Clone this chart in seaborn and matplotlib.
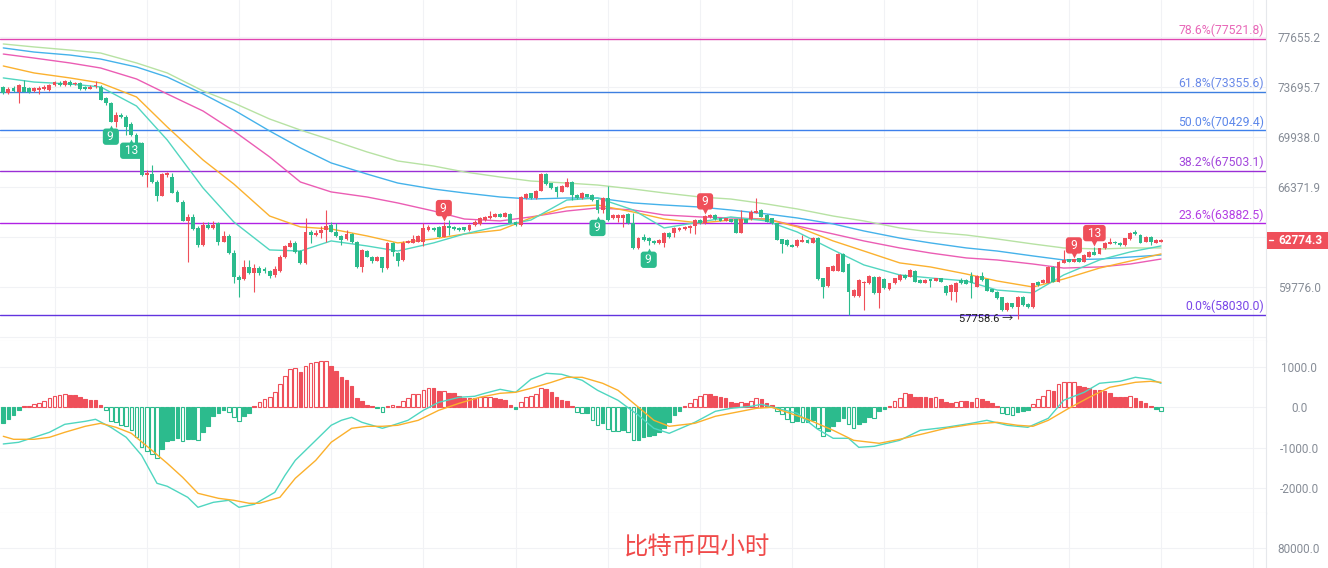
import numpy as np
import pandas as pd
import matplotlib
matplotlib.use("Agg")
import matplotlib.pyplot as plt
import matplotlib.transforms as mtrans
from matplotlib.patches import Rectangle
from matplotlib.lines import Line2D
from matplotlib.ticker import FixedLocator, FixedFormatter, NullLocator
import seaborn as sns

sns.set_theme(style="white")
plt.rcParams["font.family"] = ["Roboto", "Noto Sans CJK SC", "DejaVu Sans"]
plt.rcParams["axes.unicode_minus"] = False

# ---------------- data (4h candles) ----------------
OPEN = [
    73690, 73230, 73620, 73350, 73690, 73620, 73410, 73480, 73540, 73480,
    73870, 74050, 73870, 74130, 73930, 74000, 73690, 73580, 73790, 73740,
    72850, 72510, 71080, 71580, 71450, 70910, 70100, 69490, 67210, 67280,
    66740, 65770, 67210, 67090, 66000, 65360, 64070, 64340, 63560, 62450,
    63780, 63560, 63890, 62670, 63050, 61910, 60410, 60250, 61050, 60630,
    60950, 60880, 60790, 60520, 60790, 61650, 62340, 62570, 62080, 61270,
    63330, 63110, 63230, 63440, 63780, 63330, 63050, 62830, 63180, 62670,
    61050, 62080, 61690, 61430, 61650, 60950, 62570, 61910, 61480, 62610,
    62610, 62670, 62670, 63440, 63560, 63670, 63000, 63710, 63670, 63600,
    63620, 63440, 63780, 63850, 64110, 64230, 64340, 64520, 64340, 64520,
    64000, 63780, 65590, 65930, 65590, 66110, 67280, 66630, 66350, 66050,
    66390, 66740, 65820, 65590, 65870, 65820, 65470, 64790, 65590, 64230,
    64230, 64230, 64520, 63890, 62240, 62960, 62900, 62740, 62570, 62570,
    63230, 63270, 63440, 63490, 63560, 63710, 64110, 63890, 64300, 64450,
    64230, 64070, 64160, 64160, 63270, 64160, 64160, 64610, 64790, 64450,
    64230, 63890, 62830, 62780, 62450, 62390, 62670, 62780, 62600, 62900,
    60310, 59820, 60790, 60790, 61870, 61220, 59200, 59200, 59990, 59990,
    60410, 59370, 60250, 59620, 59990, 60200, 60520, 60410, 60790, 60200,
    60030, 60250, 60160, 60310, 59820, 59470, 59470, 60200, 60180, 60460,
    59780, 60460, 60250, 59620, 59470, 59120, 58340, 58750, 58500, 59160,
    58700, 58500, 60090, 60030, 60030, 61050, 60090, 61310, 61520, 61370,
    61590, 61370, 61690, 62020, 61870, 62240, 62520, 62670, 62610, 62450,
    62830, 63330, 63110, 62670, 63000, 62610, 62670,
]
HIGH = [
    73790, 73720, 73790, 73950, 74260, 73720, 73720, 73790, 73870, 73950,
    74180, 74180, 74260, 74260, 74100, 74100, 73790, 73870, 74180, 73870,
    72950, 72560, 71830, 71730, 71580, 71060, 70240, 69580, 67570, 67920,
    66860, 67360, 67430, 67360, 66160, 65470, 64520, 64520, 63710, 63980,
    63980, 64050, 63980, 63380, 63180, 62130, 60520, 61480, 61480, 61220,
    61090, 61010, 60840, 61090, 61800, 62450, 62780, 62720, 62130, 64230,
    63440, 63440, 63710, 64790, 64000, 63890, 63110, 63440, 63250, 62720,
    62190, 62130, 61740, 61740, 61670, 62650, 62650, 62000, 62720, 62780,
    63110, 63110, 63890, 63780, 63650, 63710, 64000, 64110, 63710, 63650,
    63650, 63850, 64110, 64320, 64380, 64720, 64590, 64590, 64650, 64590,
    64050, 65750, 65960, 65960, 66160, 67360, 67360, 66650, 66440, 66510,
    66980, 66790, 65890, 66050, 65890, 65890, 65540, 65680, 66440, 64520,
    64520, 64520, 64590, 64570, 62980, 63180, 62980, 62780, 62850, 63310,
    63280, 63670, 63650, 63710, 63780, 64180, 64180, 64450, 64520, 64520,
    64250, 64250, 64180, 64180, 64790, 64180, 64790, 65590, 64860, 64520,
    64250, 63910, 62850, 62850, 62520, 62850, 63110, 62850, 62980, 62980,
    60330, 61030, 61160, 61930, 61930, 61290, 59630, 60260, 60140, 60520,
    60460, 60460, 60330, 60010, 60330, 60580, 60580, 60900, 60840, 60260,
    60260, 60260, 60330, 60330, 59890, 59950, 60070, 60310, 60260, 60710,
    60520, 60730, 60260, 59640, 59510, 59140, 58830, 58770, 59200, 59200,
    58770, 60010, 60140, 60260, 61090, 61090, 61410, 62130, 61540, 61540,
    61610, 61870, 62060, 62340, 62260, 62650, 62900, 62720, 62650, 62910,
    63310, 63440, 63180, 63050, 63050, 62820, 62850,
]
LOW = [
    73180, 73180, 73330, 72470, 73330, 73250, 73330, 73180, 73480, 73410,
    73790, 73790, 73790, 73790, 73870, 73480, 73480, 73560, 73640, 72680,
    72340, 71060, 70710, 71360, 70100, 70020, 69290, 67140, 66390, 66650,
    65420, 65750, 67070, 65960, 65330, 64050, 61370, 63440, 62320, 62390,
    63510, 63510, 62450, 62650, 61870, 59990, 59160, 60200, 60580, 59470,
    60520, 60650, 60330, 60390, 60710, 61610, 62320, 61950, 61220, 61220,
    62570, 63050, 62910, 62670, 63310, 62980, 62450, 62780, 62590, 60980,
    60730, 61650, 61270, 61410, 60730, 60920, 61740, 61090, 61410, 62590,
    62590, 62650, 62390, 63380, 63380, 62980, 62980, 63110, 63440, 63380,
    63380, 63380, 63710, 63780, 64050, 64180, 64320, 64320, 64320, 63890,
    63710, 63710, 65540, 65540, 65540, 66090, 66510, 66230, 65660, 66030,
    66370, 65470, 65540, 65540, 65680, 65400, 64570, 64570, 64050, 64180,
    64000, 63670, 63850, 62190, 62190, 62720, 62450, 62520, 62520, 62340,
    62910, 62960, 63380, 63440, 63230, 63180, 63850, 63850, 64250, 64110,
    64050, 64050, 63980, 63250, 63250, 63910, 64110, 64590, 64320, 63980,
    63850, 62750, 61910, 62390, 62320, 62320, 62650, 62590, 62590, 60200,
    59060, 59760, 60770, 60770, 60710, 58030, 59140, 59140, 58340, 59950,
    59320, 58440, 59630, 59570, 59950, 60140, 60260, 60390, 60070, 60010,
    60010, 59740, 60140, 60070, 59260, 58950, 58850, 59950, 59950, 59070,
    59740, 60140, 59510, 59420, 59010, 58270, 58270, 58460, 57758.6, 58580,
    58460, 58460, 59820, 60010, 60010, 60070, 60070, 61290, 61350, 61350,
    61350, 61350, 61670, 61770, 61840, 62190, 62490, 62520, 62420, 62420,
    62780, 63110, 62590, 62650, 62450, 62590, 62650,
]
CLOSE = [
    73230, 73540, 73430, 73870, 73350, 73350, 73620, 73620, 73690, 73870,
    74080, 73870, 74180, 73870, 74000, 73540, 73540, 73740, 73830, 72720,
    72470, 71080, 71580, 71410, 70710, 70100, 69360, 67210, 67380, 66700,
    65770, 67280, 67330, 65980, 65360, 64070, 64300, 63490, 62450, 63780,
    63560, 63780, 62670, 63050, 61910, 60410, 60200, 61050, 60630, 60950,
    60670, 60790, 60460, 60880, 61690, 62390, 62570, 62020, 61270, 63330,
    63110, 63260, 63440, 63710, 63330, 63050, 62780, 63180, 62670, 61050,
    62130, 61690, 61430, 61690, 60950, 62570, 62020, 61430, 62610, 62720,
    62830, 63050, 63560, 63670, 63440, 63000, 63710, 63560, 63490, 63440,
    63420, 63780, 64000, 64230, 64300, 64380, 64520, 64340, 64570, 63930,
    63780, 65700, 65890, 65590, 66110, 67280, 66580, 66280, 66050, 66440,
    66740, 65820, 65590, 65930, 65700, 65470, 64790, 65590, 64110, 64450,
    64480, 64420, 63890, 62240, 62900, 62780, 62720, 62570, 62780, 63270,
    62960, 63560, 63560, 63670, 63710, 64110, 63890, 64380, 64450, 64160,
    64070, 64230, 64000, 63270, 64160, 63930, 64670, 64740, 64340, 64000,
    63890, 62780, 62520, 62450, 62340, 62780, 62780, 62600, 62900, 60250,
    59780, 61010, 61090, 61870, 60730, 59470, 59570, 60200, 60090, 60460,
    59370, 60410, 59680, 59990, 60310, 60520, 60310, 60840, 60090, 60030,
    60200, 60160, 60310, 60090, 59400, 59890, 60030, 59990, 59970, 60010,
    60460, 60200, 59530, 59470, 59060, 58340, 58780, 58500, 59160, 58640,
    58500, 59990, 59890, 60200, 61050, 60090, 61370, 61480, 61370, 61520,
    61370, 61800, 62020, 61800, 62240, 62610, 62670, 62570, 62450, 62900,
    63270, 63160, 62610, 63000, 62670, 62780, 62774.3,
]

# moving averages, read at sample candles
MA_IDX = [0, 6, 13, 19, 26, 32, 39, 45, 52, 58, 64, 71, 77, 84, 90, 97, 103, 110,
          116, 123, 129, 136, 142, 149, 155, 162, 168, 175, 181, 188, 194, 201,
          207, 214, 220, 226]
MA_FAST = [74420, 74100, 73950, 73720, 72260, 69730, 66300, 63980, 62130, 62060,
           62720, 62390, 62060, 62590, 63180, 63710, 64110, 65470, 65610, 64790,
           63580, 63980, 64320, 64050, 63310, 62130, 61160, 60520, 60330, 60140,
           59570, 59390, 60520, 61480, 62000, 62390]
MA_MID = [75360, 74810, 74420, 74030, 72950, 70690, 68280, 66580, 64380, 63650,
          63510, 63050, 62590, 62850, 63180, 63440, 64250, 64990, 65130, 64650,
          64180, 63910, 64110, 64180, 63650, 62720, 62060, 61290, 61030, 60580,
          60140, 59760, 60260, 60960, 61410, 61870]
MA_SLOW = [76310, 75990, 75600, 75200, 74340, 73180, 71880, 70390, 68500, 66720,
           66030, 65680, 65270, 64720, 64180, 64050, 64320, 64720, 64930, 64790,
           64450, 64320, 64250, 64180, 63710, 63180, 62720, 62260, 61930, 61610,
           61480, 61220, 60960, 61030, 61220, 61540]
MA_LONG = [76800, 76470, 76230, 75910, 75280, 74490, 73180, 71960, 70390, 69150,
           68070, 67280, 66650, 66230, 65960, 65680, 65540, 65610, 65610, 65270,
           65130, 64990, 64790, 64520, 64250, 63850, 63380, 62910, 62590, 62260,
           62060, 61740, 61480, 61540, 61670, 61800]
MA_XLONG = [77120, 76880, 76630, 76390, 75600, 74810, 73410, 72490, 71280, 70460,
            69730, 68860, 68210, 67850, 67430, 67070, 66790, 66650, 66510, 66230,
            65960, 65680, 65540, 65200, 64860, 64380, 64050, 63580, 63310, 63110,
            62850, 62520, 62260, 62190, 62260, 62260]

FIB_LEVELS = ["0.0%", "23.6%", "38.2%", "50.0%", "61.8%", "78.6%"]
FIB_PRICES = [58030.0, 63882.5, 67503.1, 70429.4, 73355.6, 77521.8]

TD_IDX = [21, 25, 86, 116, 126, 137, 209, 213]
TD_COUNT = ["9", "13", "9", "9", "9", "9", "9", "13"]
TD_SIDE = ["buy", "buy", "sell", "buy", "buy", "sell", "sell", "sell"]

MACD_HIST = [
    -395, -288, -181, -66, 25, 41, 82, 107, 148, 230,
    288, 313, 329, 313, 313, 263, 206, 189, 181, 66,
    -70, -329, -370, -428, -453, -560, -741, -971, -1070, -1152,
    -1251, -1029, -840, -807, -757, -823, -782, -775, -807, -617,
    -453, -206, -148, -66, -107, -247, -329, -206, -148, 41,
    123, 206, 247, 370, 576, 782, 946, 971, 864, 1029,
    1095, 1130, 1135, 1140, 1029, 905, 757, 675, 535, 230,
    165, 66, 25, -25, -107, 33, 66, 41, 148, 230,
    329, 335, 428, 477, 470, 395, 411, 354, 346, 288,
    230, 228, 226, 247, 255, 263, 230, 206, 181, 66,
    -41, 140, 263, 288, 329, 477, 453, 370, 247, 181,
    148, 25, -123, -148, -140, -305, -428, -395, -535, -576,
    -593, -560, -600, -807, -800, -741, -700, -675, -617, -510,
    -370, -181, -82, 41, 99, 206, 288, 335, 329, 288,
    263, 230, 123, 99, 123, 115, 165, 230, 206, 99,
    66, -99, -165, -288, -370, -329, -370, -354, -313, -510,
    -700, -576, -453, -329, -263, -411, -510, -411, -370, -240,
    -262, -99, -41, 41, 165, 230, 350, 340, 263, 260,
    247, 230, 263, 206, 123, 99, 123, 148, 145, 123,
    230, 206, 148, 99, 41, -148, -165, -181, -123, -100,
    -70, 82, 206, 288, 428, 411, 576, 617, 620, 625,
    535, 510, 469, 428, 425, 395, 346, 263, 260, 258,
    288, 230, 148, 99, 33, -30, -99,
]
DIF_IDX = [0, 3, 6, 9, 12, 16, 18, 21, 24, 27, 30, 32, 36, 38, 41, 44, 46, 49, 53, 55,
           57, 61, 64, 66, 68, 70, 72, 74, 76, 79, 82, 85, 89, 92, 94, 97, 100, 103, 106, 109,
           113, 116, 120, 124, 127, 130, 135, 139, 142, 146, 148, 151, 155, 159, 162, 165,
           167, 170, 175, 179, 184, 189, 192, 196, 200, 204, 207, 211, 214, 218, 221, 224, 226]
DIF = [-905, -864, -741, -617, -420, -346, -296, -494, -741, -1185,
       -1876, -1950, -2222, -2469, -2346, -2296, -2469, -2395, -2099, -1679,
       -1309, -815, -444, -321, -247, -370, -444, -518, -444, -321,
       -74, 123, 247, 272, 346, 444, 370, 691, 840, 815,
       667, 420, 173, -198, -519, -642, -370, -99, -25, 25,
       74, -25, -148, -543, -765, -765, -988, -963, -815, -568,
       -494, -395, -321, -444, -494, -272, 173, 370, 593, 642,
       741, 691, 593]
DEA_IDX = [0, 2, 6, 9, 12, 16, 19, 22, 25, 29, 32, 35, 38, 42, 45, 48, 50, 54, 57, 61,
           64, 68, 71, 74, 77, 81, 85, 89, 93, 97, 100, 103, 107, 110, 113, 117, 120, 124,
           127, 130, 135, 139, 144, 147, 150, 153, 157, 162, 166, 171, 175, 180, 184, 189,
           194, 198, 201, 204, 208, 212, 216, 221, 224, 226]
DEA = [-716, -790, -790, -741, -617, -469, -395, -494, -642, -1062,
       -1383, -1728, -2123, -2247, -2296, -2370, -2370, -2222, -1753, -1309,
       -864, -519, -469, -469, -444, -321, -74, 99, 247, 346,
       370, 469, 617, 741, 741, 593, 420, 0, -321, -469,
       -395, -222, -99, -25, 0, -123, -296, -568, -815, -889,
       -790, -642, -518, -420, -370, -444, -469, -321, -25, 247,
       494, 617, 642, 617]

PRICE_TICKS = [56728.0, 59776.0, 62987.5, 66371.9, 69938.0, 73695.7, 77655.2]
PRICE_TICK_LABELS = ["", "59776.0", "", "66371.9", "69938.0", "73695.7", "77655.2"]
MACD_TICKS = [-2000, -1000, 0, 1000]
MACD_TICK_LABELS = ["-2000.0", "-1000.0", "0.0", "1000.0"]
VOL_TICKS = [80000]
VOL_TICK_LABELS = ["80000.0"]
TITLE = "比特币四小时"

# ---------------- styling ----------------
RED = "#ef4f5a"
GREEN = "#2cbb8d"
GRID = "#f1f2f5"
BORDER = "#e6e8ec"
TICKC = "#878d97"
MA_COLORS = ["#52d6c0", "#fbb12f", "#eb5db4", "#45b2ea", "#b7e2a3"]
FIB_LINE_COLORS = ["#6233df", "#b022e4", "#9a2fd6", "#3d80ec", "#3d7fe0", "#e044b0"]
FIB_TEXT_COLORS = ["#7a46e8", "#b43fe4", "#a347dc", "#5d88ea", "#6a8ae8", "#e868b8"]

W, H = 1328, 568
fig = plt.figure(figsize=(W / 100, H / 100), dpi=100)
fig.patch.set_facecolor("white")


def rect(l, t, r, b):
    return [l / W, 1 - b / H, (r - l) / W, (b - t) / H]


ax = fig.add_axes(rect(0, 0, 1266, 341))
axm = fig.add_axes(rect(0, 341, 1266, 513.3))
axv = fig.add_axes(rect(0, 513.3, 1266, 568))
XLIM = (-0.644, 246.5)

for a in (ax, axm, axv):
    a.set_facecolor("white")
    a.set_xlim(*XLIM)
    a.set_xticks(np.arange(10, 247, 18))
    a.tick_params(axis="x", length=0, labelbottom=False)
    a.grid(True, color=GRID, lw=0.8)
    a.set_axisbelow(True)
    for s in ("top", "left"):
        a.spines[s].set_visible(False)
    a.spines["right"].set_color(BORDER)
    a.spines["right"].set_linewidth(0.8)
    a.spines["bottom"].set_color(BORDER)
    a.spines["bottom"].set_linewidth(0.8)
    a.yaxis.tick_right()
    a.tick_params(axis="y", length=0, pad=23.8, labelsize=8.5, labelcolor=TICKC)
axv.spines["bottom"].set_visible(False)

# ---------------- main price pane ----------------
o = np.array(OPEN, float)
h = np.array(HIGH, float)
l = np.array(LOW, float)
c = np.array(CLOSE, float)
n = len(c)
idx = np.arange(n)
h = np.maximum(h, np.maximum(o, c))
l = np.minimum(l, np.minimum(o, c))

ax.set_yscale("log")

for i_lvl, (lab, val) in enumerate(zip(FIB_LEVELS, FIB_PRICES)):
    ax.axhline(val, color=FIB_LINE_COLORS[i_lvl], lw=1.0, zorder=1.5)
    ax.annotate(f"{lab}({val:.1f})", xy=(1, val), xycoords=("axes fraction", "data"),
                xytext=(-1.5, 1.2), textcoords="offset points", ha="right", va="bottom",
                fontsize=8.8, color=FIB_TEXT_COLORS[i_lvl], zorder=6)

for series, col in zip([MA_XLONG, MA_LONG, MA_SLOW, MA_MID, MA_FAST],
                       MA_COLORS[::-1]):
    sns.lineplot(x=MA_IDX, y=series, ax=ax, color=col, linewidth=1.0,
                 estimator=None, sort=False, zorder=2)

up = c >= o
ccol = np.where(up, RED, GREEN)
ax.vlines(idx, l, h, colors=ccol, lw=0.8, zorder=3)
body_lo = np.minimum(o, c)
body_h = np.maximum(np.abs(c - o), 45)
ax.bar(idx, body_h, bottom=body_lo, width=0.76, color=ccol, linewidth=0, zorder=4)

ax.set_ylim(56468, 80762)
ax.yaxis.set_major_locator(FixedLocator(PRICE_TICKS))
ax.yaxis.set_major_formatter(FixedFormatter(PRICE_TICK_LABELS))
ax.yaxis.set_minor_locator(NullLocator())
ax.set_xlabel("")
ax.set_ylabel("")
ax.set_xlim(*XLIM)

# TD sequential markers
for i, txt, side in zip(TD_IDX, TD_COUNT, TD_SIDE):
    if side == "sell":
        col, y, dy, tri, tdy = RED, h[i], 9.8, "v", 3.0
    else:
        col, y, dy, tri, tdy = GREEN, l[i], -10.6, "^", -4.2
    ax.annotate(f" {txt} ", xy=(i, y), xytext=(0, dy), textcoords="offset points",
                ha="center", va="center", fontsize=8.6, color="white",
                bbox=dict(boxstyle="round,pad=0.14,rounding_size=0.25", fc=col, ec="none"),
                zorder=7)
    tr = mtrans.offset_copy(ax.transData, fig=fig, x=0, y=tdy, units="points")
    ax.plot([i], [y], marker=tri, ms=3.8, color=col, mec="none", transform=tr, zorder=7)

# lowest low annotation
imin = int(np.argmin(l))
ax.annotate(f"{l[imin]:.1f} →", xy=(imin, l[imin]), xytext=(-3.2, 0),
            textcoords="offset points", ha="right", va="center", fontsize=8,
            color="#1e1e1e", zorder=7)

# ---------------- MACD pane ----------------
hist = np.array(MACD_HIST, float)
prev = np.r_[np.inf, np.abs(hist[:-1])]
hollow = np.abs(hist) > prev
hcol = np.where(hist >= 0, RED, GREEN)
face = np.where(hollow, "white", hcol)
axm.bar(idx, hist, width=0.72, color=face, edgecolor=hcol, linewidth=0.8, zorder=3)
sns.lineplot(x=DIF_IDX, y=DIF, ax=axm, color="#4fd6c0", linewidth=1.0,
             estimator=None, sort=False, zorder=4)
sns.lineplot(x=DEA_IDX, y=DEA, ax=axm, color="#fbb02c", linewidth=1.0,
             estimator=None, sort=False, zorder=4)
axm.set_ylim(-2617, 1637)
axm.yaxis.set_major_locator(FixedLocator(MACD_TICKS))
axm.yaxis.set_major_formatter(FixedFormatter(MACD_TICK_LABELS))
axm.set_xlabel("")
axm.set_ylabel("")
axm.set_xlim(*XLIM)

# ---------------- bottom pane ----------------
axv.set_ylim(0, 221000)
axv.yaxis.set_major_locator(FixedLocator(VOL_TICKS))
axv.yaxis.set_major_formatter(FixedFormatter(VOL_TICK_LABELS))

for a in (ax, axm, axv):
    for lab in a.yaxis.get_majorticklabels():
        lab.set_horizontalalignment("center")

# last price tag
last = c[-1]
ydisp = ax.transData.transform((0, last))[1]
yf = ydisp / fig.bbox.height
fig.add_artist(Rectangle((1267 / W, yf - 8.5 / H), 61 / W, 17 / H,
                         transform=fig.transFigure, facecolor=RED, edgecolor="none", zorder=10))
fig.add_artist(Line2D([1268.5 / W, 1273 / W], [yf, yf], transform=fig.transFigure,
                      color="white", lw=1.0, zorder=11))
fig.text(1300 / W, yf, f"{last:.1f}", ha="center", va="center", color="white",
         fontsize=8.5, fontweight="bold", zorder=11)

# watermark title
fig.text(697 / W, 1 - 548 / H, TITLE, ha="center", va="center", fontsize=17.6,
         color="#f04a4a", family=["Noto Sans CJK SC", "DejaVu Sans"], zorder=12)

fig.savefig("out.png", dpi=100, facecolor="white")
